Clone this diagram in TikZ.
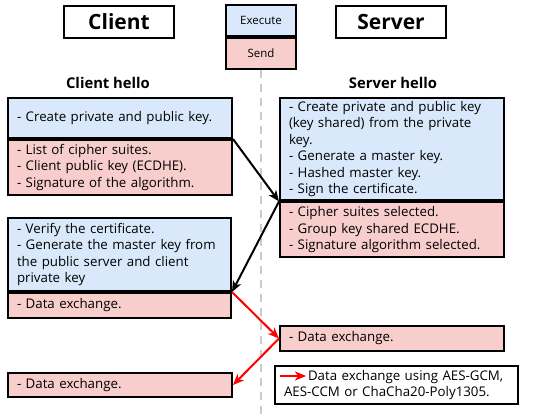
\documentclass[tikz,border=0pt]{standalone}
\usepackage{fontspec}
\setmainfont{Open Sans}
\usepackage{xcolor}
\usetikzlibrary{positioning,arrows.meta}
\definecolor{execblue}{HTML}{DAE8FC}
\definecolor{sendpink}{HTML}{F8CECC}
\tikzset{
  box/.style={draw=black, line width=2pt, anchor=north west, align=left, inner xsep=9pt,
    font=\fontsize{13.3}{16.5}\selectfont},
  exec/.style={box, fill=execblue},
  send/.style={box, fill=sendpink},
  title/.style={draw=black, line width=2pt, minimum width=110, minimum height=32, font=\fontsize{21}{24}\selectfont\bfseries},
  legendbox/.style={draw=black, line width=2pt, minimum width=70, minimum height=31, font=\fontsize{11.5}{13}\selectfont},
  hello/.style={font=\fontsize{14.8}{17}\selectfont\bfseries},
  flow/.style={-{Stealth[length=11pt,width=9pt,inset=3pt]}, line width=2pt},
}
\begin{document}
\begin{tikzpicture}[x=1pt,y=-1pt]
\useasboundingbox (0,0) rectangle (550,420);
% legend
\node[legendbox, fill=execblue, anchor=north west] (execute) at (225,4) {Execute};
\node[legendbox, fill=sendpink, below=0pt of execute] (send) {Send};
\coordinate (bottom) at (261,420);
\draw[gray!40, line width=2.5pt, dash pattern=on 8pt off 6pt] (send.south) -- (bottom);
% titles
\node[title] (client) at (119,22) {Client};
\node[title] (server) at (391,22) {Server};
\node[hello] (clienthello) at (108,83) {Client hello};
\node[hello] (serverhello) at (393,83) {Server hello};
% client side
\node[exec, minimum width=224, minimum height=40, text width=206] (ce1) at (7,97) {- Create private and public key.};
\node[send, below=0pt of ce1, minimum width=224, minimum height=55, text width=206] (cs1) {- List of cipher suites.\\- Client public key (ECDHE).\\- Signature of the algorithm.};
\node[exec, minimum width=223, minimum height=73, text width=205] (ce2) at (7,217) {- Verify the certificate.\\- Generate the master key from\\the public server and client\\private key};
\node[send, below=0pt of ce2, minimum width=223, minimum height=25, text width=205] (cs2) {- Data exchange.};
\node[send, minimum width=224, minimum height=24, text width=206] (cs3) at (7,372) {- Data exchange.};
% server side
\node[exec, minimum width=224, minimum height=101, text width=206] (se1) at (279,97) {- Create private and public key\\(key shared) from the private\\key.\\- Generate a master key.\\- Hashed master key.\\- Sign the certificate.};
\node[send, below=0pt of se1, minimum width=224, minimum height=55, text width=206] (ss1) {- Cipher suites selected.\\- Group key shared ECDHE.\\- Signature algorithm selected.};
\node[send, minimum width=224, minimum height=25, text width=206] (ss2) at (279,325) {- Data exchange.};
% legend for red arrows
\node[box, minimum width=243, minimum height=38, inner xsep=9pt, text width=225] (note) at (274,365) {\hspace{24pt}Data exchange using AES-GCM,\\AES-CCM or ChaCha20-Poly1305.};
\coordinate (notea) at ([xshift=6pt,yshift=-11pt]note.north west);
\coordinate (noteb) at ([xshift=32pt,yshift=-11pt]note.north west);
% messages
\draw[flow] (cs1.north east) -- (ss1.north west);
\draw[flow] (ss1.north west) -- (ce2.south east);
\draw[flow, red] (cs2.north east) -- (ss2.west);
\draw[flow, red] (ss2.west) -- (cs3.east);
\draw[flow, red] (notea) -- (noteb);
\end{tikzpicture}
\end{document}
